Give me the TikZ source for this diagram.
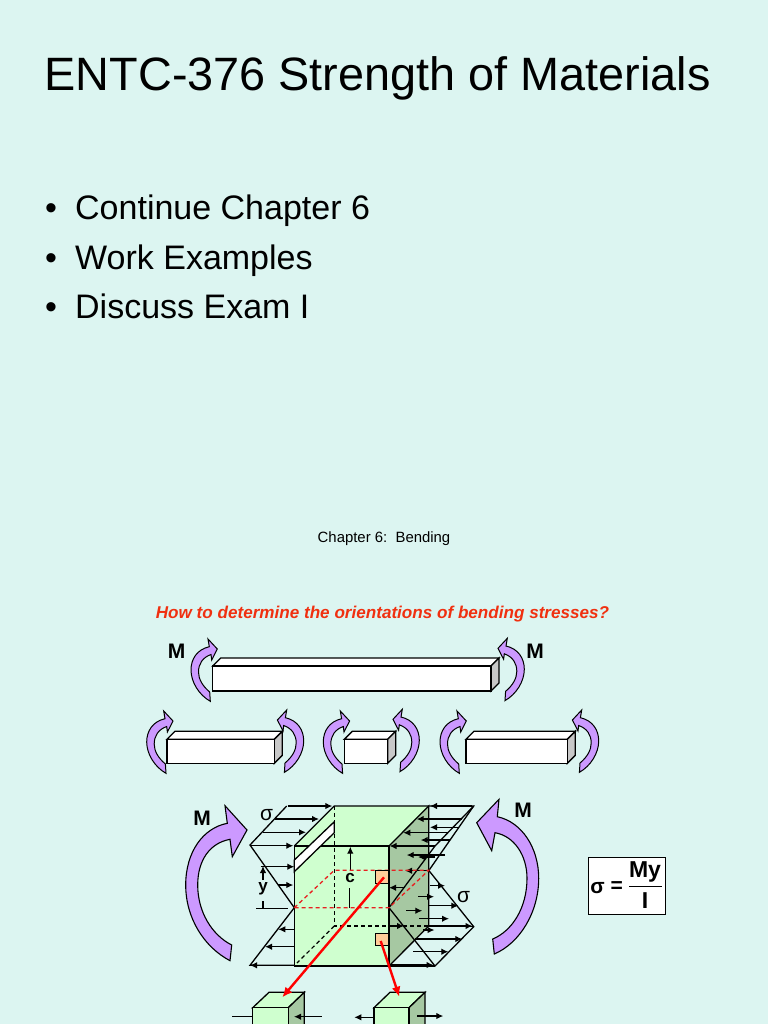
\documentclass[tikz,border=0pt]{standalone}
\usepackage{fontspec}
\setmainfont{Liberation Sans}
\usetikzlibrary{arrows.meta}
\definecolor{bgc}{HTML}{DCF5F1}
\definecolor{purp}{HTML}{CC99FF}
\definecolor{lgreen}{HTML}{CFFFCF}
\definecolor{dgreen}{HTML}{A6C8A2}
\definecolor{orangeb}{HTML}{FFCC99}
\definecolor{redt}{HTML}{F03010}
\definecolor{sideg}{HTML}{C8C8C8}
\definecolor{redd}{HTML}{E82020}
\tikzset{
  ln/.style={draw=black,line width=1.3pt},
  ar/.style={draw=black,line width=1.2pt,-{Latex[length=7pt,width=6.5pt]}},
  dsh/.style={draw=black,line width=1.2pt,dash pattern=on 4pt off 3pt},
  rdsh/.style={draw=redd,line width=1.3pt,dash pattern=on 4pt off 3pt},
  redar/.style={draw=red,line width=2.4pt,-{Latex[length=10pt,width=9pt]}},
  lbl/.style={font=\fontsize{21}{24}\selectfont\bfseries,inner sep=0pt},
  sig/.style={font=\fontsize{21}{22}\selectfont,inner sep=0pt},
  pics/marrow/.style={code={
    \path[draw=black,fill=purp,line width=1pt]
      (26.3,10) -- (17,0) -- (18.3,7.7)
      .. controls (6,10.5) and (0,20) .. (0,31)
      .. controls (0,43) and (8,56) .. (19.3,62.3)
      -- (18.7,53)
      .. controls (11.5,47) and (7.5,40) .. (7.5,33)
      .. controls (7.5,25) and (11.5,18.5) .. (20,15.5)
      -- (20.7,21) -- cycle;
  }},
}
\newcommand{\beam}[4]{% x1 x2 ytop ybot
  \path[draw=black,fill=white,line width=1.3pt] (#1,#3) -- ++(8,-8) -- (#2+8,#3-8) -- (#2,#3) -- cycle;
  \path[draw=black,fill=sideg,line width=1.3pt] (#2,#3) -- ++(8,-8) -- (#2+8,#4-8) -- (#2,#4) -- cycle;
  \path[draw=black,fill=white,line width=1.3pt] (#1,#3) rectangle (#2,#4);
}
\begin{document}
\begin{tikzpicture}[x=1pt,y=-1pt]
\useasboundingbox (0,0) rectangle (768,1024);
\clip (0,0) rectangle (768,1024);
\fill[bgc] (0,0) rectangle (768,1024);

% texts
\node[anchor=base west,inner sep=0pt,font=\fontsize{46.8}{50}\selectfont] (title) at (44.5,91) {ENTC-376 Strength of Materials};
\node[anchor=base west,inner sep=0pt,font=\fontsize{34}{36}\selectfont] (b1d) at (45,220) {•};
\node[anchor=base west,inner sep=0pt,font=\fontsize{34}{36}\selectfont] (b1) at (75,220) {Continue Chapter 6};
\node[anchor=base west,inner sep=0pt,font=\fontsize{34}{36}\selectfont] (b2d) at (45,269.5) {•};
\node[anchor=base west,inner sep=0pt,font=\fontsize{34}{36}\selectfont] (b2) at (75,269.5) {Work Examples};
\node[anchor=base west,inner sep=0pt,font=\fontsize{34}{36}\selectfont] (b3d) at (45,318.5) {•};
\node[anchor=base west,inner sep=0pt,font=\fontsize{34}{36}\selectfont] (b3) at (75,318.5) {Discuss Exam I};
\node[inner sep=0pt,font=\fontsize{14.9}{16}\selectfont] (chap) at (384,539) {Chapter 6:\ \ Bending};
\node[inner sep=0pt,text=redt,font=\fontsize{17.1}{20}\selectfont\bfseries\itshape] (q) at (382.5,614) {How to determine the orientations of bending stresses?};

% beams
\beam{212.7}{491}{666}{691}
\beam{167}{274.3}{739.3}{763.3}
\beam{344.3}{387.7}{739.3}{763.3}
\beam{466}{567.3}{739.3}{763.3}

% small moment arrows
\pic at (191,639) {marrow};
\pic[xscale=-1] at (524.3,638.3) {marrow};
\pic at (146.7,711) {marrow};
\pic[xscale=-1] at (303.7,710) {marrow};
\pic at (323.3,711) {marrow};
\pic[xscale=-1] at (419.3,709.3) {marrow};
\pic at (440,711) {marrow};
\pic[xscale=-1] at (598.7,710) {marrow};
\node[lbl] (m1) at (176.5,651) {M};
\node[lbl] (m2) at (535,651) {M};

% big moment arrows
\path[draw=black,fill=purp,line width=1.1pt] (247,830) -- (225,805.7) -- (227.3,823.3)
  .. controls (203,828) and (185.7,852) .. (185.7,885)
  .. controls (185.7,918) and (204,947) .. (230,960.7)
  -- (231.7,945)
  .. controls (212,935) and (197.7,912) .. (197.7,885)
  .. controls (197.7,860) and (210,843) .. (230,839.3)
  -- (232.3,856.7) -- cycle;
\path[draw=black,fill=purp,line width=1.1pt] (476.7,822.7) -- (499,799.3) -- (497.3,816.7)
  .. controls (522,822) and (538.7,848) .. (538.7,878.3)
  .. controls (538.7,912) and (520,943) .. (494.3,954)
  -- (492.7,939)
  .. controls (512,931) and (527,908) .. (527,878.3)
  .. controls (527,855) and (514,836) .. (495,832.7)
  -- (491.7,850.7) -- cycle;
\node[lbl] (m3) at (202,818) {M};
\node[lbl] (m4) at (523,810) {M};

% block
\path[fill=lgreen] (294.3,846) -- (334.3,806) -- (428.7,806) -- (428.7,926) -- (389,966) -- (294.3,966) -- cycle;
\path[ln,fill=dgreen] (389,846) -- (428.7,806) -- (428.7,926) -- (389,966) -- cycle;
\path[ln] (294.3,846) -- (334.3,806) -- (428.7,806);
\path[ln] (294.3,846) rectangle (389,966);
\path[ln,fill=white] (294.3,860) -- (334.3,821.7) -- (334.3,832.7) -- (294.3,871.7) -- cycle;
\path[dsh] (334.3,806) -- (334.3,926) -- (428.7,926);
\path[dsh] (334.3,926) -- (297,963);

% left stress profile
\path[ln] (286.7,806) -- (250,845) -- (294.3,907.7) -- (250,965.3) -- (294.3,965.3);
\path[ar] (287.7,806) -- (332.3,806);
\path[ar] (275,819) -- (319,819);
\path[ar] (262.7,832.3) -- (306,832.3);
\path[ar] (250,845.7) -- (293.3,845.7);
\path[ar] (260.7,866.7) -- (294.3,866.7);
\path[ar] (277.7,885) -- (293.3,885);
\path[ar] (294.3,929.3) -- (278.3,929.3);
\path[ar] (294.3,946.7) -- (265,946.7);
\path[ar] (294.3,965.3) -- (250,965.3);
% y dimension
\path[ar] (263,880) -- (263,866);
\node[inner sep=0pt,font=\fontsize{17}{18}\selectfont\bfseries] (yl) at (263,889) {y};
\path[ln] (263,901) -- (263,908);
\path[ln] (256,908.7) -- (288.3,908.7);
% c dimension
\path[ar] (350.3,870) -- (350.3,846.7);
\node[inner sep=0pt,font=\fontsize{17}{18}\selectfont\bfseries] (cl) at (350,878) {c};
\path[ln] (349.7,888) -- (349.7,907.7);
\node[sig] (s1) at (266.7,815) {σ};

% right stress profile
\path[ln] (428.7,806) -- (473.7,806) -- (428.7,870.7);
\path[ln] (473.7,806) -- (435,846) -- (389,907.7);
\path[ln] (428.7,870.3) -- (473.7,926.7) -- (435,966) -- (389,907.7);
\path[ln] (428.7,926.7) -- (473.7,926.7);
\path[ln] (389,966) -- (435,966);
\path[ar] (472,806) -- (430,806);
\path[ar] (461.7,819) -- (416.7,819);
\path[ar] (448.3,832.7) -- (403.3,832.7);
\path[ar] (435,846) -- (389.5,846);
\path[ar] (459.3,827.3) -- (430,827.3);
\path[ar] (450,840) -- (420.7,840);
\path[ar] (445,855) -- (406.7,855);
\path[ar] (435,857) -- (418,857);
\path[ar] (429,870.7) -- (405,870.7);
\path[ar] (405,887.7) -- (389,887.7);
\path[ar] (418.3,896.7) -- (434,896.7);
\path[ar] (430,885.7) -- (445,885.7);
\path[ar] (428.7,905.7) -- (458.3,905.7);
\path[ar] (406,910.7) -- (422.3,910.7);
\path[ar] (419,918.7) -- (449,918.7);
\path[ar] (389,926) -- (404,926);
\path[ar] (428.7,926) -- (472.5,926);
\path[ar] (423,930) -- (434.5,930);
\path[ar] (415,939) -- (462.3,939);
\path[ar] (413,951.7) -- (448.3,951.7);
\path[ar] (389,965) -- (433.5,965);
\node[sig] (s2) at (463.7,897) {σ};
% red neutral plane, over the profiles
\path[rdsh] (294.3,907.7) -- (334.3,870.3) -- (428.7,870.3) -- (389,907.7) -- cycle;

% small cubes
\path[ln,fill=lgreen] (252.7,1007.7) -- (269,992.3) -- (304.3,992.3) -- (288.3,1007.7) -- cycle;
\path[ln,fill=dgreen] (288.3,1007.7) -- (304.3,992.3) -- (304.3,1030) -- (288.3,1030) -- cycle;
\path[ln,fill=lgreen] (252.7,1007.7) rectangle (288.3,1030);
\path[ln] (232.3,1016.7) -- (252.7,1016.7);
\path[ar] (321.7,1016.7) -- (294,1016.7);
\path[ln,fill=lgreen] (374,1007.7) -- (390,992.3) -- (425,992.3) -- (409,1007.7) -- cycle;
\path[ln,fill=dgreen] (409,1007.7) -- (425,992.3) -- (425,1030) -- (409,1030) -- cycle;
\path[ln,fill=lgreen] (374,1007.7) rectangle (409,1030);
\path[ar] (374,1017.3) -- (354.3,1017.3);
\path[ar] (417.3,1016) -- (443.3,1016);

% orange elements and red arrows
\node[draw=black,line width=1pt,fill=orangeb,minimum width=13pt,minimum height=12.5pt,inner sep=0pt] (e1) at (381.7,877.2) {};
\node[draw=black,line width=1pt,fill=orangeb,minimum width=13pt,minimum height=12.5pt,inner sep=0pt] (e2) at (381.7,939.5) {};
\coordinate (c1) at (282.3,997.3);
\coordinate (c2) at (399.3,996.7);
\path[redar] (384,877.3) -- (c1);
\path[redar] (380.7,941) -- (c2);

% equation
\node[draw=black,fill=white,line width=1.5pt,minimum width=77pt,minimum height=56.6pt,inner sep=0pt] (eqbox) at (627.2,886) {};
\node[inner sep=0pt,font=\fontsize{21}{22}\selectfont\bfseries] (eqs) at (597.5,888) {σ};
\node[inner sep=0pt,font=\fontsize{21}{22}\selectfont\bfseries] (eqe) at (616.7,887) {=};
\node[inner sep=0pt,font=\fontsize{23}{24}\selectfont\bfseries] (eqn) at (645,872) {My};
\node[inner sep=0pt,font=\fontsize{23}{24}\selectfont\bfseries] (eqd) at (645,901) {I};
\path[draw=black,line width=1pt] (629.3,886.7) -- (661.7,886.7);
\end{tikzpicture}
\end{document}
